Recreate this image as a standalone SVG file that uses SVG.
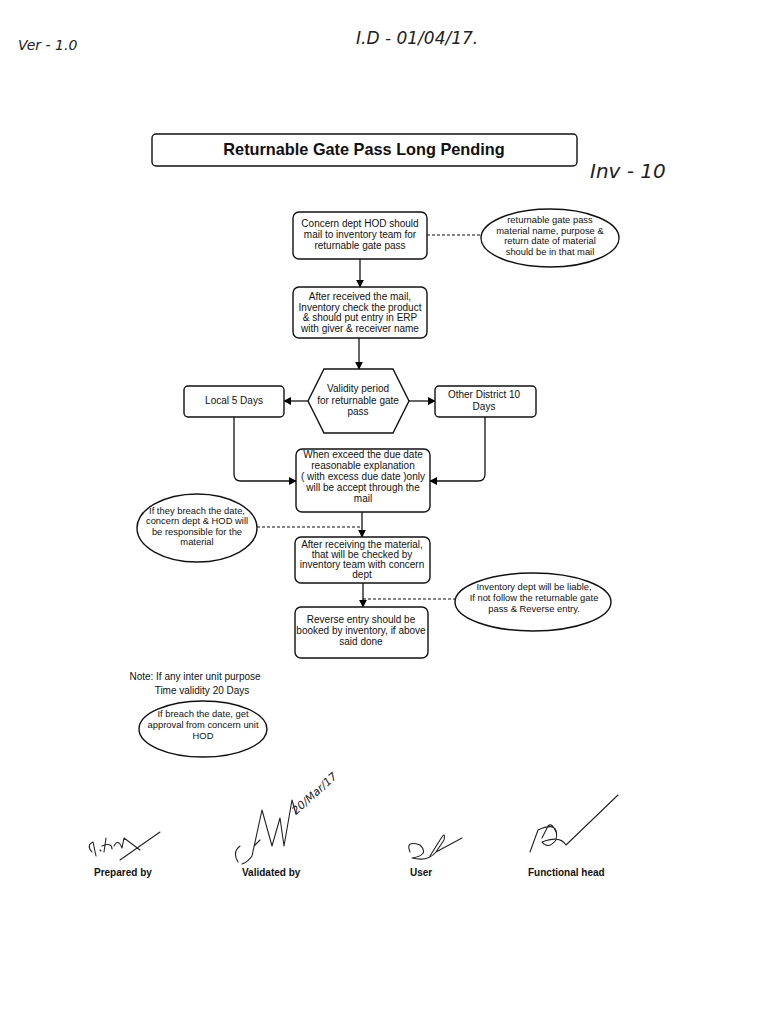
<svg xmlns="http://www.w3.org/2000/svg" width="768" height="1024" viewBox="0 0 768 1024">
<defs>
<marker id="arr" viewBox="0 0 10 10" refX="9" refY="5" markerWidth="8" markerHeight="8" orient="auto" markerUnits="userSpaceOnUse">
<path d="M0,0 L10,5 L0,10 z" fill="#000"/>
</marker>
<style>
.box{fill:#fff;stroke:#111;stroke-width:1.4}
.t{font-family:"Liberation Sans",Arial,sans-serif;font-size:10px;fill:#111;text-anchor:middle}
.te{font-family:"Liberation Sans",Arial,sans-serif;font-size:9.4px;fill:#111;text-anchor:middle}
.lbl{font-family:"Liberation Sans",Arial,sans-serif;font-size:10px;font-weight:bold;fill:#111}
.hw{font-family:"DejaVu Sans",sans-serif;font-style:italic;fill:#222;font-weight:300}
.ln{fill:none;stroke:#111;stroke-width:1.3}
.dash{fill:none;stroke:#111;stroke-width:1.1;stroke-dasharray:3,2}
.sig{fill:none;stroke:#222;stroke-width:1.1;stroke-linecap:round;stroke-linejoin:round}
</style>
</defs>
<rect width="768" height="1024" fill="#fff"/>

<!-- handwritten annotations -->
<text class="hw" x="18" y="50" font-size="14">Ver - 1.0</text>
<text class="hw" x="356" y="44" font-size="17">I.D - 01/04/17.</text>
<text class="hw" x="590" y="178" font-size="20">Inv - 10</text>

<!-- title -->
<g id="title">
<rect x="152" y="134" width="425" height="32" rx="4" class="box"/>
<text x="364" y="155" font-family="Liberation Sans,Arial,sans-serif" font-size="16.3" font-weight="bold" text-anchor="middle" fill="#111">Returnable Gate Pass Long Pending</text>
</g>

<!-- connectors -->
<g id="connectors">
<line x1="360" y1="259" x2="360" y2="287" class="ln" marker-end="url(#arr)"/>
<line x1="427" y1="235" x2="482" y2="235" class="dash"/>
<line x1="359" y1="338" x2="359" y2="369" class="ln" marker-end="url(#arr)"/>
<line x1="308" y1="401" x2="284" y2="401" class="ln" marker-end="url(#arr)"/>
<line x1="409" y1="401" x2="435" y2="401" class="ln" marker-end="url(#arr)"/>
<path d="M234,417 V474 Q234,481 241,481 H296" class="ln" marker-end="url(#arr)"/>
<path d="M485,417 V474 Q485,481 478,481 H430" class="ln" marker-end="url(#arr)"/>
<line x1="362" y1="512" x2="362" y2="537" class="ln" marker-end="url(#arr)"/>
<line x1="257" y1="527" x2="362" y2="527" class="dash"/>
<line x1="363" y1="583" x2="363" y2="607" class="ln" marker-end="url(#arr)"/>
<line x1="363" y1="599" x2="455" y2="599" class="dash"/>
</g>

<g id="n1">
<rect x="293" y="212" width="134" height="47" rx="6" class="box"/>
<text class="t" x="360" y="227">Concern dept HOD should</text>
<text class="t" x="360" y="238">mail to inventory team for</text>
<text class="t" x="360" y="249">returnable gate pass</text>
</g>

<g id="e1">
<ellipse cx="550" cy="238" rx="69" ry="29" class="box"/>
<text class="te" x="550" y="223">returnable gate pass</text>
<text class="te" x="550" y="233.5">material name, purpose &amp;</text>
<text class="te" x="550" y="244">return date of material</text>
<text class="te" x="550" y="254.5">should be in that mail</text>
</g>

<g id="n2">
<rect x="293" y="287" width="134" height="51" rx="6" class="box"/>
<text class="t" x="360" y="300">After received the mail,</text>
<text class="t" x="360" y="310.5">Inventory check the product</text>
<text class="t" x="360" y="321">&amp; should put entry in ERP</text>
<text class="t" x="360" y="331.5">with giver &amp; receiver name</text>
</g>

<g id="hex">
<polygon points="308,401 324,369 393,369 409,401 393,433 324,433" class="box"/>
<text class="t" x="358" y="392">Validity period</text>
<text class="t" x="358" y="403.5">for returnable gate</text>
<text class="t" x="358" y="415">pass</text>
</g>

<g id="local">
<rect x="184" y="386" width="100" height="31" rx="4" class="box"/>
<text class="t" x="234" y="404">Local 5 Days</text>
</g>

<g id="other">
<rect x="435" y="386" width="101" height="31" rx="4" class="box"/>
<text class="t" x="484" y="398">Other District 10</text>
<text class="t" x="484" y="409.5">Days</text>
</g>

<g id="n3">
<rect x="296" y="449" width="134" height="63" rx="6" class="box"/>
<text class="t" x="363" y="458">When exceed the due date</text>
<text class="t" x="363" y="469">reasonable explanation</text>
<text class="t" x="363" y="480">( with excess due date )only</text>
<text class="t" x="363" y="491">will be accept through the</text>
<text class="t" x="363" y="502">mail</text>
</g>

<g id="e2">
<ellipse cx="197" cy="528" rx="60" ry="34" class="box"/>
<text class="te" x="197" y="513.5">If they breach the date,</text>
<text class="te" x="197" y="524">concern dept &amp; HOD will</text>
<text class="te" x="197" y="534.5">be responsible for the</text>
<text class="te" x="197" y="545">material</text>
</g>

<g id="n4">
<rect x="295" y="537" width="135" height="46" rx="6" class="box"/>
<text class="t" x="362" y="548">After receiving the material,</text>
<text class="t" x="362" y="558">that will be checked by</text>
<text class="t" x="362" y="568">inventory team with concern</text>
<text class="t" x="362" y="578">dept</text>
</g>

<g id="e3">
<ellipse cx="533" cy="602" rx="78" ry="29" class="box"/>
<text class="te" x="534" y="590">Inventory dept will be liable,</text>
<text class="te" x="534" y="601">If not follow the returnable gate</text>
<text class="te" x="534" y="612">pass &amp; Reverse entry.</text>
</g>

<g id="n5">
<rect x="295" y="607" width="133" height="51" rx="6" class="box"/>
<text class="t" x="361" y="623">Reverse entry should be</text>
<text class="t" x="361" y="634">booked by inventory, if above</text>
<text class="t" x="361" y="645">said done</text>
</g>

<g id="note">
<text class="t" x="195" y="680">Note: If any inter unit purpose</text>
<text class="t" x="202" y="694">Time validity 20 Days</text>
</g>

<g id="e4">
<ellipse cx="203" cy="729" rx="64" ry="28" class="box"/>
<text class="te" x="203" y="717">If breach the date, get</text>
<text class="te" x="203" y="728">approval from concern unit</text>
<text class="te" x="203" y="739">HOD</text>
</g>

<!-- signatures -->
<g id="signatures">
<path class="sig" d="M92,852 Q86,845 93,842 L96,856 M100,850 L101,851 M106,838 L104,852 M102,846 Q112,842 112,849 M114,846 Q118,838 122,848 L124,838 L140,850 M120,860 L160,832"/>
<path class="sig" d="M238,862 Q232,852 240,846 M242,864 Q248,862 252,856 L262,810 L272,846 L280,818 L284,846 L292,800 L296,814 M260,840 L254,846"/>
<text class="hw" x="296" y="815" font-size="11" transform="rotate(-42 296 815)">20/Mar/17</text>
<path class="sig" d="M410,852 Q405,840 420,845 Q430,855 412,858 Q428,862 436,852 L444,840 Q446,830 440,840 L430,856 M436,852 L462,838"/>
<path class="sig" d="M530,852 L538,830 Q560,820 556,840 Q548,850 542,842 Q560,835 566,845 M566,845 L618,795 M542,838 L548,826 Q552,822 556,832"/>
<text class="lbl" x="94" y="876">Prepared by</text>
<text class="lbl" x="242" y="876">Validated by</text>
<text class="lbl" x="410" y="876">User</text>
<text class="lbl" x="528" y="876">Functional head</text>
</g>
</svg>
